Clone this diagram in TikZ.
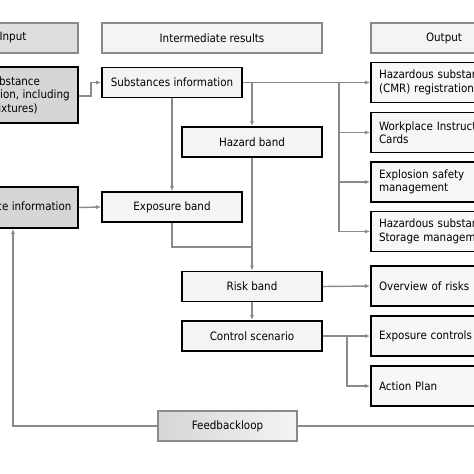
\documentclass[tikz,border=0pt]{standalone}
\usepackage{fontspec}
\setmainfont{DejaVu Sans Condensed}
\usetikzlibrary{arrows.meta}

\definecolor{edgegray}{HTML}{8A8A8A}
\definecolor{inputfill}{HTML}{D6D6D6}
\definecolor{boxfill}{HTML}{F4F4F4}

\begin{document}
\begin{tikzpicture}[x=1pt, y=-1pt,
    hdr/.style={draw=edgegray, line width=1.2pt, fill=boxfill, minimum height=30pt, inner sep=0pt,
      font=\fontsize{11.5}{13.5}\selectfont},
    box/.style={draw=black, line width=1.8pt, fill=boxfill, minimum height=30pt, minimum width=140pt,
      inner sep=0pt, font=\fontsize{11.5}{13.5}\selectfont},
    inbox/.style={box, fill=inputfill, minimum width=130pt, align=center},
    outbox/.style={box, fill=boxfill!70!white, minimum width=146pt, minimum height=40pt,
      text width=130pt, align=left},
    link/.style={draw=edgegray, line width=1.4pt},
    arr/.style={link, -{Latex[length=5pt,width=4pt]}}]
  \useasboundingbox (0,0) rectangle (474,474);
  \fill[white] (0,0) rectangle (474,474);

  % column headers
  \node[hdr, fill=inputfill!80!white, minimum width=130pt] (hdrIn) at (13,38) {Input};
  \node[hdr, minimum width=220pt] (hdrMid) at (212,38) {Intermediate results};
  \node[hdr, minimum width=146pt] (hdrOut) at (444,38) {Output};

  % input
  \node[inbox, minimum height=56pt] (inSub) at (13,95) {Substance\\information, including\\mixtures)};
  \node[inbox, minimum height=41pt] (inWork) at (13,207.5) {Workplace information};

  % intermediate results
  \node[box] (subInfo) at (172,82.5) {Substances information};
  \node[box] (hazard) at (252,142) {Hazard band};
  \node[box] (expBand) at (172,207) {Exposure band};
  \node[box] (risk) at (252,286.5) {Risk band};
  \node[box] (control) at (252,336) {Control scenario};
  \node[box, draw=edgegray, line width=1.2pt, shading=axis, left color=inputfill, right color=boxfill,
    minimum width=139pt] (feedback) at (227.5,426) {Feedbackloop};

  % output
  \node[outbox] (cmr) at (444,82.5) {Hazardous substances\\(CMR) registration};
  \node[outbox] (cards) at (444,132.5) {Workplace Instruction\\Cards};
  \node[outbox] (explo) at (444,182) {Explosion safety\\management};
  \node[outbox] (storage) at (444,231.5) {Hazardous substances\\Storage management};
  \node[outbox] (overview) at (444,286) {Overview of risks};
  \node[outbox] (expCtrl) at (444,336) {Exposure controls};
  \node[outbox] (plan) at (444,386) {Action Plan};

  \coordinate (busOut) at (339,82.5);
  \coordinate (busCtrl) at (347,336);
  \coordinate (join) at (252,247);
  \coordinate (fbIn) at (490,426);

  \draw[arr] (inSub.east) ++(0,1) -- ++(12,0) |- (subInfo.west);
  \draw[arr] (subInfo.south) -- (expBand.north);
  \draw[arr] (subInfo.east) -- (cmr.west);
  \draw[arr] (subInfo.east -| hazard.north) -- (hazard.north);
  \draw[arr] (busOut) |- (cards.west);
  \draw[arr] (busOut) |- (explo.west);
  \draw[arr] (busOut) |- (storage.west);
  \draw[arr] (inWork.east) -- (expBand.west);
  \draw[link] (expBand.south) |- (join);
  \draw[arr] (hazard.south) -- (risk.north);
  \draw[arr] (risk.east) -- (overview.west);
  \draw[arr] (risk.south) -- (control.north);
  \draw[arr] (control.east) -- (expCtrl.west);
  \draw[arr] (busCtrl) |- (plan.west);
  \draw[link] (fbIn) -- (feedback.east);
  \draw[arr] (feedback.west) -| (inWork.south);
\end{tikzpicture}
\end{document}
